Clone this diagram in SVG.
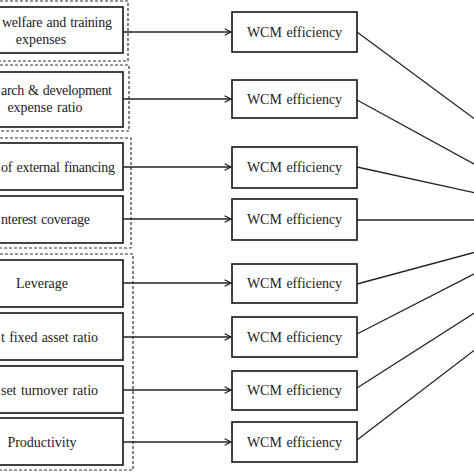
<svg xmlns="http://www.w3.org/2000/svg" width="474" height="474" viewBox="0 0 474 474">
<style>
text{font-family:"Liberation Serif","Times New Roman",serif;font-size:14px;fill:#222;word-spacing:1px}
.box{fill:#fff;stroke:#222;stroke-width:1.7}
.grp{fill:none;stroke:#333;stroke-width:1.2;stroke-dasharray:3 2}
.c{fill:none;stroke:#222;stroke-width:1.3}
</style>
<defs>
<marker id="ah" viewBox="0 0 10 10" refX="9" refY="5" markerWidth="8" markerHeight="8" markerUnits="userSpaceOnUse" orient="auto">
<polyline points="1,1 9,5 1,9" fill="none" stroke="#222" stroke-width="1.5"/>
</marker>
</defs>
<g id="groups">
<rect class="grp" x="-10" y="1" width="138" height="60"/>
<rect class="grp" x="-10" y="65" width="139" height="66"/>
<rect class="grp" x="-10" y="138" width="141" height="110"/>
<rect class="grp" x="-10" y="254" width="143" height="216"/>
</g>
<g id="connectors">
<line class="c" x1="123" y1="32" x2="231" y2="32" marker-end="url(#ah)"/>
<line class="c" x1="123" y1="99" x2="231" y2="99" marker-end="url(#ah)"/>
<line class="c" x1="123" y1="167" x2="231" y2="167" marker-end="url(#ah)"/>
<line class="c" x1="123" y1="219" x2="231" y2="219" marker-end="url(#ah)"/>
<line class="c" x1="123" y1="283" x2="231" y2="283" marker-end="url(#ah)"/>
<line class="c" x1="123" y1="337" x2="231" y2="337" marker-end="url(#ah)"/>
<line class="c" x1="123" y1="390" x2="231" y2="390" marker-end="url(#ah)"/>
<line class="c" x1="123" y1="442" x2="231" y2="442" marker-end="url(#ah)"/>
<line class="c" x1="357" y1="32" x2="476" y2="120"/>
<line class="c" x1="357" y1="100" x2="476" y2="165"/>
<line class="c" x1="357" y1="167" x2="476" y2="193"/>
<line class="c" x1="357" y1="220" x2="476" y2="220"/>
<line class="c" x1="357" y1="284" x2="476" y2="252"/>
<line class="c" x1="357" y1="334" x2="476" y2="273"/>
<line class="c" x1="357" y1="388" x2="476" y2="312"/>
<line class="c" x1="357" y1="440" x2="476" y2="349"/>
</g>
<g id="n1"><rect class="box" x="-10" y="7" width="133" height="46"/><text x="2" y="27" textLength="110" lengthAdjust="spacing">welfare and training</text><text x="41" y="44" text-anchor="middle">expenses</text></g>
<g id="n2"><rect class="box" x="-10" y="72" width="133" height="55"/><text x="1" y="95" textLength="111" lengthAdjust="spacing">arch &amp; development</text><text x="45" y="112" text-anchor="middle">expense ratio</text></g>
<g id="n3"><rect class="box" x="-10" y="143" width="133" height="47"/><text x="1" y="172" textLength="114" lengthAdjust="spacing">of external financing</text></g>
<g id="n4"><rect class="box" x="-10" y="196" width="133" height="47"/><text x="1" y="224" textLength="89" lengthAdjust="spacing">nterest coverage</text></g>
<g id="n5"><rect class="box" x="-10" y="260" width="133" height="47"/><text x="42" y="288" text-anchor="middle">Leverage</text></g>
<g id="n6"><rect class="box" x="-10" y="313" width="133" height="47"/><text x="1" y="342" textLength="97" lengthAdjust="spacing">t fixed asset ratio</text></g>
<g id="n7"><rect class="box" x="-10" y="366" width="133" height="47"/><text x="1" y="395" textLength="97" lengthAdjust="spacing">set turnover ratio</text></g>
<g id="n8"><rect class="box" x="-10" y="418" width="133" height="47"/><text x="42" y="447" text-anchor="middle">Productivity</text></g>
<g id="w1"><rect class="box" x="232" y="12" width="125" height="40"/><text x="294.5" y="37" text-anchor="middle">WCM efficiency</text></g>
<g id="w2"><rect class="box" x="232" y="80" width="125" height="38"/><text x="294.5" y="104" text-anchor="middle">WCM efficiency</text></g>
<g id="w3"><rect class="box" x="232" y="147" width="125" height="41"/><text x="294.5" y="172" text-anchor="middle">WCM efficiency</text></g>
<g id="w4"><rect class="box" x="232" y="199" width="125" height="41"/><text x="294.5" y="224" text-anchor="middle">WCM efficiency</text></g>
<g id="w5"><rect class="box" x="232" y="264" width="125" height="39"/><text x="294.5" y="288" text-anchor="middle">WCM efficiency</text></g>
<g id="w6"><rect class="box" x="232" y="317" width="125" height="40"/><text x="294.5" y="342" text-anchor="middle">WCM efficiency</text></g>
<g id="w7"><rect class="box" x="232" y="371" width="125" height="39"/><text x="294.5" y="395" text-anchor="middle">WCM efficiency</text></g>
<g id="w8"><rect class="box" x="232" y="422" width="125" height="40"/><text x="294.5" y="447" text-anchor="middle">WCM efficiency</text></g>
</svg>
